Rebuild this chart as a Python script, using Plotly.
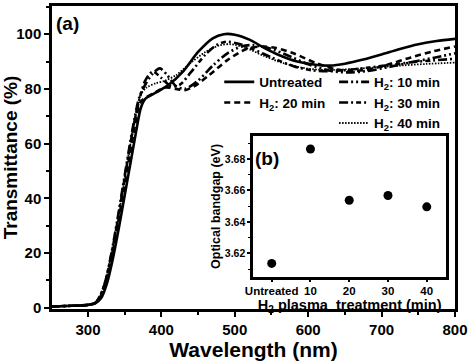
import plotly.graph_objects as go

# ---------------- data ----------------
untreated_x = [250, 270, 290, 300, 310, 318, 326, 334, 342, 350, 358, 366, 372, 378, 385, 395, 410, 430, 450, 470, 485,
               500, 520, 540, 560, 585, 610, 630, 650, 675, 700, 725, 750, 775, 800]
untreated_y = [0.4, 0.6, 0.8, 1.0, 1.6, 3.5, 9, 18, 29, 41, 53, 65, 73, 76.3, 77.5, 79, 81.5, 86.5, 93.5, 98.5, 100,
               99.8, 98, 95, 92.4, 90, 88.8, 88.5, 89.2, 90.7, 92.6, 94.6, 96.3, 97.5, 98.3]

h10_x = [250, 270, 290, 300, 310, 316, 324, 332, 340, 348, 356, 364, 370, 378, 388, 398, 408, 420, 432, 450, 470,
         490, 510, 525, 545, 570, 600, 630, 655, 680, 710, 740, 770, 800]
h10_y = [0.4, 0.6, 0.8, 1.0, 1.8, 4, 10, 20, 32, 45, 58, 70, 77, 81.5, 85.5, 87.5, 85, 81, 80, 83, 88.5,
         93, 95.6, 96, 95, 92.5, 89, 86.6, 86, 86.5, 88, 89.7, 91.3, 93]

h20_x = [250, 270, 290, 300, 310, 317, 325, 333, 341, 349, 357, 365, 371, 377, 390, 405, 420, 432, 445, 465, 490,
         515, 535, 555, 580, 610, 635, 655, 680, 710, 740, 770, 800]
h20_y = [0.4, 0.6, 0.8, 1.0, 1.7, 3.8, 9.5, 19, 31, 43, 56, 68, 75, 76.5, 78.5, 80.5, 80, 79.5, 81, 85, 90.5,
         94.5, 95.5, 95, 93, 89.5, 87.3, 86.5, 87, 89, 91.5, 93.7, 95.5]

h30_x = [250, 270, 290, 300, 310, 316, 324, 332, 340, 348, 356, 364, 370, 378, 388, 400, 413, 425, 440, 460, 475,
         488, 505, 525, 550, 580, 605, 625, 650, 680, 710, 740, 770, 800]
h30_y = [0.4, 0.6, 0.8, 1.0, 1.7, 3.9, 9.8, 19.5, 31, 44, 57, 69, 76, 83, 86.3, 84, 81, 81.5, 86, 92.5, 96,
         97.2, 96.5, 94.5, 91.5, 88.3, 86.8, 86.5, 86.8, 87.7, 88.7, 89.7, 90.4, 91]

h40_x = [250, 270, 290, 300, 310, 316, 324, 332, 340, 348, 356, 364, 372, 380, 392, 405, 420, 440, 460, 480, 495,
         515, 540, 565, 590, 615, 640, 670, 700, 730, 760, 800]
h40_y = [0.4, 0.6, 0.8, 1.0, 1.7, 3.9, 9.8, 19.5, 31, 44, 57, 69, 78, 80.5, 82, 83, 85, 89.5, 93.5, 96, 96.3,
         95, 92, 89.5, 87.8, 87, 87, 87.4, 88, 88.6, 89.1, 89.6]

series_names = ["Untreated", "H<sub>2</sub>: 10 min", "H<sub>2</sub>: 20 min",
                "H<sub>2</sub>: 30 min", "H<sub>2</sub>: 40 min"]

inset_categories = ["Untreated", "10", "20", "30", "40"]
inset_pos = [0, 10, 20, 30, 40]
bandgap = [3.6136, 3.6864, 3.6538, 3.6568, 3.6496]

x_ticks = [300, 400, 500, 600, 700, 800]
y_ticks = [0, 20, 40, 60, 80, 100]
inset_y_ticks = [3.62, 3.64, 3.66, 3.68]

# ---------------- figure ----------------
FONT = "Liberation Sans, Arial, sans-serif"
fig = go.Figure()

styles = [
    dict(dash="solid", legend="legend"),
    dict(dash="9px,3px,2px,3px,2px,3px", legend="legend2"),
    dict(dash="6px,4px", legend="legend"),
    dict(dash="9px,3px,2px,3px,5px,3px,2px,3px", legend="legend2"),
    dict(dash="1.5px,1.5px", legend="legend2"),
]
xs = [untreated_x, h10_x, h20_x, h30_x, h40_x]
ys = [untreated_y, h10_y, h20_y, h30_y, h40_y]
for name, x, y, st in zip(series_names, xs, ys, styles):
    fig.add_trace(go.Scatter(
        x=x, y=y, mode="lines", name=name, legend=st["legend"],
        line=dict(color="black", width=2.6 if st["dash"] != "1.5px,1.5px" else 1.8,
                  dash=st["dash"], shape="spline", smoothing=0.8),
        xaxis="x", yaxis="y"))

fig.add_trace(go.Scatter(
    x=inset_pos, y=bandgap, mode="markers", showlegend=False,
    marker=dict(color="black", size=9), xaxis="x2", yaxis="y2"))

axis_common = dict(showline=True, linecolor="black", linewidth=2.5, mirror=True, automargin=False,
                   ticks="outside", tickcolor="black", tickwidth=2, showgrid=False, zeroline=False)

legend_common = dict(y=0.80, xanchor="left", yanchor="top", bgcolor="rgba(0,0,0,0)",
                     font=dict(size=13.5, weight="bold"), tracegroupgap=0, itemwidth=30,
                     borderwidth=0)

fig.update_layout(
    width=474, height=361,
    margin=dict(l=52, r=19, t=6, b=52),
    plot_bgcolor="white", paper_bgcolor="white",
    font=dict(family=FONT, color="black"),
    xaxis=dict(**axis_common, range=[251, 800], tickvals=x_ticks, ticklen=5,
               minor=dict(dtick=50, tick0=0, ticklen=3, ticks="outside", tickcolor="black", tickwidth=1.5),
               tickfont=dict(size=15, weight="bold"),
               title=dict(text="Wavelength (nm)", font=dict(size=21, weight="bold"), standoff=2)),
    yaxis=dict(**axis_common, range=[-0.5, 110.3], tickvals=y_ticks, ticklen=5,
               minor=dict(dtick=10, tick0=0, ticklen=3, ticks="outside", tickcolor="black", tickwidth=1.5),
               tickfont=dict(size=15, weight="bold"),
               title=dict(text="Transmittance (%)", font=dict(size=19, weight="bold"), standoff=6)),
    xaxis2=dict(**axis_common, domain=[0.499, 0.978], anchor="y2", range=[-4.8, 45],
                tickvals=inset_pos, ticktext=inset_categories, ticklen=2,
                tickfont=dict(size=11.5, weight="bold"),
                title=dict(text="H<sub>2</sub> plasma  treatment (min)", font=dict(size=14.5, weight="bold"),
                           standoff=0)),
    yaxis2=dict(**axis_common, domain=[0.106, 0.571], anchor="x2", range=[3.605, 3.6947],
                tickvals=inset_y_ticks, tickformat=".2f", ticklen=3,
                minor=dict(dtick=0.01, tick0=0, ticklen=2, ticks="outside", tickcolor="black", tickwidth=1),
                tickfont=dict(size=10.5, weight="bold"),
                title=dict(text="Optical bandgap (eV)", font=dict(size=12.5, weight="bold"), standoff=2)),
    legend=dict(x=0.415, **legend_common),
    legend2=dict(x=0.70, **legend_common),
    annotations=[
        dict(text="<b>(a)</b>", x=0.005, y=0.985, xref="paper", yref="paper", xanchor="left", yanchor="top",
             showarrow=False, font=dict(size=19)),
        dict(text="<b>(b)</b>", x=0.0, y=0.93, xref="x2 domain", yref="y2 domain", xanchor="left", yanchor="top",
             showarrow=False, font=dict(size=19)),
    ],
)

fig.write_html("out.html", config={"displayModeBar": False},
               post_script="document.body.style.margin='0';document.body.style.overflow='hidden';")
